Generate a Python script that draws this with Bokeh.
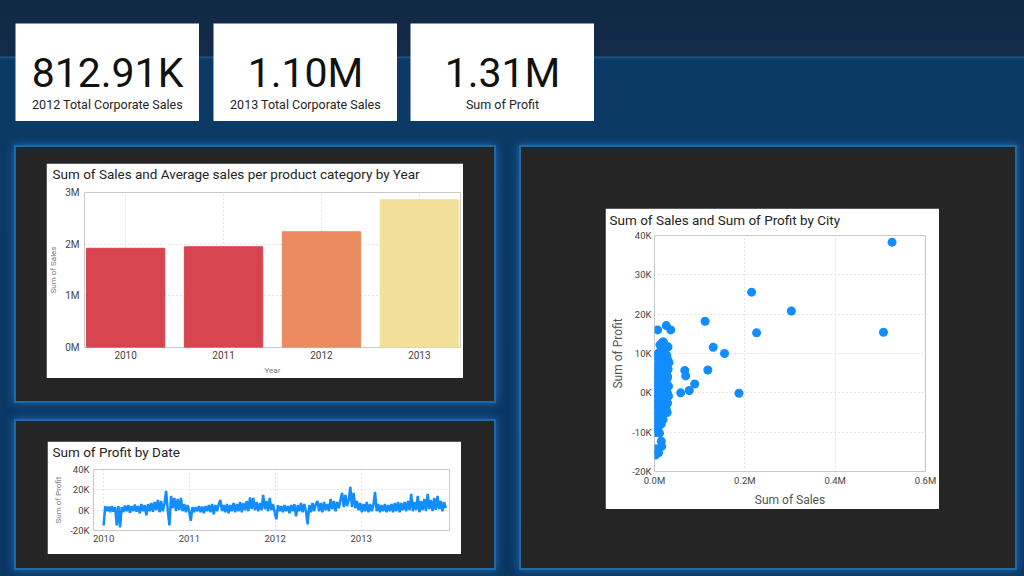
import pandas as pd
from bokeh.plotting import figure
from bokeh.layouts import column, row
from bokeh.models import (Spacer, Range1d, FactorRange, PrintfTickFormatter, FixedTicker,
                          DatetimeTickFormatter, ColumnDataSource, Title)
from bokeh.core.properties import value
from bokeh.embed import file_html
from bokeh.resources import INLINE

# ---------------- data ----------------
kpi_values = ["812.91K", "1.10M", "1.31M"]
kpi_labels = ["2012 Total Corporate Sales", "2013 Total Corporate Sales", "Sum of Profit"]

years = ["2010", "2011", "2012", "2013"]
sales_by_year_m = [1.92, 1.95, 2.24, 2.86]
bar_colors = ["#D64550", "#D64550", "#EB895F", "#F2DF9A"]

# weekly sum of profit (thousands)
profit_k = [
    -15, 4, -1, 3.5, -2, 4, -1.5, 3, -15, 4,
    -17, 3, -2, 4.5, -1, 5, -2.5, 4, -1, 5.5,
    -1.5, 4, -3, 6, -1, 5, -5, 6, -1, 7,
    -1.5, 8, 0, 10, -2, 9, -1, 6, 19, 0,
    -15, 14, 2, 12, -1, 11, 0, 12, -1, 6,
    -2, 5, -1, -10.5, 3, -2, 3, -1, 4, -2,
    3.5, -3, 4, -1, 5, -2, 6, -4, 5, -1,
    6, 10, -1, 5, -2, 6, -3, 5, -1, 7,
    -2, 6, -1, 8, -2, 7, 0, 9, -1, 12.5,
    1, 12, 0, 8, -1, 7, 0, 15, 1, 9,
    -1, 12, 0, 6, -2, -9, 5, -1, 4, -2,
    5, -1, 4, -3, 5, -1, 6, -6, 5, -1,
    7, -2, 6, -1, -14, 5, -2, 7, -1, 6,
    9, -1, 7, -2, 8, 0, 6, -1, 11, 1,
    9, -1, 8, 2, 10, 17, 3, 15, 4, 10,
    23, 3, 17, 2, 9, 0, 7, -2, 6, -1,
    8, -2, 6, -1, 5, 18, -1, 6, -2, 5,
    -1, 6, -2, 5, -1, 6, -2, 7, -1, 8,
    -2, 7, 0, 8, -1, 9, 0, 16, -1, 8,
    0, 14, -2, 9, 0, 11, -1, 16, 1, 10,
    -1, 12, 0, 14, 1, 9, -1, 8, 2,
]
profit_dates = pd.date_range("2010-01-01", periods=len(profit_k), freq="7D")
date_tick_years = [2010, 2011, 2012, 2013]

# sum of sales (millions) and sum of profit (thousands) per city
city_sales_m = [
    0.526, 0.215, 0.303, 0.507, 0.226, 0.112, 0.130, 0.155, 0.118, 0.067,
    0.069, 0.089, 0.077, 0.058, 0.187, 0.007, 0.026, 0.036, 0.018, 0.030,
    0.029, 0.032, 0.028, 0.031, 0.015, 0.011, 0.015, 0.016, 0.009, 0.002, 0.002,
    0.002, 0.006, 0.010, 0.014, 0.018, 0.022, 0.004, 0.009, 0.013, 0.017,
    0.021, 0.025, 0.003, 0.007, 0.011, 0.016, 0.020, 0.024, 0.002, 0.006,
    0.010, 0.015, 0.019, 0.023, 0.027, 0.003, 0.008, 0.012, 0.017, 0.021,
    0.026, 0.001, 0.005, 0.009, 0.014, 0.018, 0.022, 0.026, 0.002, 0.006,
    0.011, 0.015, 0.020, 0.024, 0.028, 0.003, 0.007, 0.012, 0.016, 0.021,
    0.025, 0.001, 0.005, 0.010, 0.014, 0.019, 0.023, 0.003, 0.008, 0.012,
    0.017, 0.021, 0.002, 0.006, 0.010, 0.015, 0.019, 0.004, 0.008, 0.012,
    0.001, 0.005, 0.009, 0.003, 0.015, 0.019, 0.012, 0.020, 0.017, 0.023,
    0.028, 0.030, 0.027, 0.029, 0.031, 0.029, 0.026, 0.028,
]
city_profit_k = [
    38.3, 25.6, 20.8, 15.4, 15.25, 18.2, 11.6, 10.0, 5.8, 5.7,
    4.3, 2.25, 0.6, 0.0, -0.1, 16.0, 17.1, 16.0, 12.9, 11.7,
    8.5, 7.7, 4.3, 1.7, -7.9, -10.25, -12.3, -13.6, -15.25, -14.2, -15.8,
    9.5, 9.8, 10.2, 9.0, 9.6, 8.8, 8.0, 8.4, 7.6, 8.1,
    7.3, 8.6, 6.5, 6.9, 6.1, 6.6, 5.9, 6.4, 5.0, 4.6,
    5.3, 4.9, 4.2, 5.1, 4.5, 3.4, 3.0, 3.7, 2.8, 3.3,
    2.6, 1.8, 1.4, 2.1, 1.2, 1.9, 1.0, 1.6, 0.2, -0.3,
    0.5, -0.1, 0.3, -0.4, 0.1, -1.5, -1.1, -1.8, -1.3, -2.0,
    -1.6, -3.0, -2.7, -3.4, -2.9, -3.6, -3.1, -4.6, -4.2, -5.0,
    -4.5, -5.3, -6.1, -5.8, -6.5, -6.2, -6.8, -7.6, -7.2, -8.0,
    -8.8, -9.3, -8.6, -10.1, 11.0, 11.8, 12.2, 12.9, 10.6, 10.4,
    7.0, 6.0, 9.5, 3.9, -0.8, -2.6, -4.2, -5.0,
]

# ---------------- styles ----------------
FONT = "Roboto"
TITLE_COLOR = "#252423"
TICK_COLOR = "#444444"
AXLABEL_COLOR = "#777777"
GRID_COLOR = "#c8c8c8"
BLUE = "#118DFF"
PANEL_STYLES = {
    "background-color": "#252525",
    "box-shadow": "0 0 0 2px #1d6aa6, 0 0 8px 3px rgba(40,130,210,0.55)",
}


def base_fig(w, h, **kw):
    p = figure(width=w, height=h, toolbar_location=None, output_backend="svg", **kw)
    p.background_fill_color = "white"
    p.border_fill_color = "white"
    p.outline_line_color = None
    return p


def style_chart(p, title_offset, gap):
    p.title.text_font = FONT
    p.title.text_font_size = "13.5px"
    p.title.text_font_style = "normal"
    p.title.text_color = TITLE_COLOR
    p.title.offset = title_offset
    p.title.vertical_align = "bottom"
    p.title.standoff = 0
    # invisible spacer panel between the title and the plot frame
    p.add_layout(Title(text=" ", text_font_size="1px", standoff=gap), "above")
    for ax in p.axis:
        ax.axis_line_color = None
        ax.major_tick_line_color = None
        ax.minor_tick_line_color = None
        ax.major_tick_out = 0
        ax.major_tick_in = 0
        ax.minor_tick_out = 0
        ax.minor_tick_in = 0
        ax.major_label_text_font = FONT
        ax.major_label_text_color = TICK_COLOR
        ax.axis_label_text_font = FONT
        ax.axis_label_text_font_style = "normal"
        ax.axis_label_text_color = AXLABEL_COLOR
    for g in p.grid:
        g.grid_line_color = GRID_COLOR
        g.grid_line_dash = "1 3"
        g.grid_line_width = 1


def kpi_card(val, lab):
    p = base_fig(184, 98, x_range=Range1d(0, 184), y_range=Range1d(0, 98),
                 x_axis_location=None, y_axis_location=None, min_border=0, title=None)
    p.grid.visible = False
    p.text(x=[92], y=[49], text=[val], text_align="center", text_baseline="alphabetic",
           text_font=value(FONT), text_font_size="41px", text_color="#111111")
    p.text(x=[92], y=[17], text=[lab], text_align="center", text_baseline="alphabetic",
           text_font=value(FONT), text_font_size="12.5px", text_color="#252423")
    return p


# ---------------- KPI cards ----------------
k1, k2, k3 = [kpi_card(v, l) for v, l in zip(kpi_values, kpi_labels)]

# ---------------- bar chart ----------------
bar_src = ColumnDataSource(dict(year=years, sales=sales_by_year_m, color=bar_colors))
bar = base_fig(417, 215, x_range=FactorRange(*years, range_padding=-0.04),
               y_range=Range1d(0, 3.0),
               title="Sum of Sales and Average sales per product category by Year",
               min_border_left=38, min_border_right=3, min_border_top=29, min_border_bottom=31)
bar.vbar(x="year", top="sales", width=0.8, color="color", source=bar_src)
style_chart(bar, -32, 8)
bar.yaxis.ticker = FixedTicker(ticks=[0, 1, 2, 3])
bar.yaxis.formatter = PrintfTickFormatter(format="%dM")
bar.yaxis.axis_label = "Sum of Sales"
bar.xaxis.axis_label = "Year"
for ax in bar.axis:
    ax.major_label_text_font_size = "10px"
    ax.axis_label_text_font_size = "8px"
    ax.axis_label_standoff = 4
bar.yaxis.major_label_standoff = 5
bar.xaxis.major_label_standoff = 3

# ---------------- profit by date ----------------
line = base_fig(414, 113, x_axis_type="datetime",
                x_range=Range1d(pd.Timestamp("2009-11-19"), pd.Timestamp("2014-01-12")),
                y_range=Range1d(-20, 40), title="Sum of Profit by Date",
                min_border_left=46, min_border_right=12, min_border_top=28, min_border_bottom=24)
line.line(x=profit_dates, y=profit_k, line_width=2.5, color=BLUE)
style_chart(line, -41, 7)
line.yaxis.ticker = FixedTicker(ticks=[-20, 0, 20, 40])
line.yaxis.formatter = PrintfTickFormatter(format="%dK")
line.yaxis.axis_label = "Sum of Profit"
line.xaxis.ticker = FixedTicker(ticks=[pd.Timestamp(f"{y}-01-01").value / 1e6 for y in date_tick_years])
line.xaxis.formatter = DatetimeTickFormatter(years="%Y", months="%Y", days="%Y", hours="%Y")
for ax in line.axis:
    ax.major_label_text_font_size = "9.5px"
    ax.axis_label_text_font_size = "8px"
    ax.axis_label_standoff = 4
    ax.major_label_standoff = 4

# ---------------- scatter ----------------
sc = base_fig(334, 301, x_range=Range1d(0, 0.6), y_range=Range1d(-20, 40),
              title="Sum of Sales and Sum of Profit by City",
              min_border_left=49, min_border_right=14, min_border_top=27, min_border_bottom=34)
sc.scatter(x=city_sales_m, y=city_profit_k, size=9, color=BLUE, line_color=None)
style_chart(sc, -45, 5)
sc.xaxis.ticker = FixedTicker(ticks=[0, 0.2, 0.4, 0.6])
sc.xaxis.formatter = PrintfTickFormatter(format="%.1fM")
sc.yaxis.ticker = FixedTicker(ticks=[-20, -10, 0, 10, 20, 30, 40])
sc.yaxis.formatter = PrintfTickFormatter(format="%dK")
sc.xaxis.axis_label = "Sum of Sales"
sc.yaxis.axis_label = "Sum of Profit"
for ax in sc.axis:
    ax.major_label_text_font_size = "9.5px"
    ax.axis_label_text_font_size = "12px"
    ax.axis_label_text_color = "#555555"
    ax.axis_label_standoff = 4
    ax.major_label_standoff = 3


# ---------------- layout ----------------
def panel(fig, w, h, left, top):
    inner = row(Spacer(width=left, height=fig.height), fig, width=w, height=fig.height)
    return column(Spacer(width=w, height=top), inner, width=w, height=h, styles=PANEL_STYLES)


p1 = panel(bar, 478, 254, 30, 16)
p2 = panel(line, 478, 147, 31, 20)
p3 = panel(sc, 494, 421, 84, 61)

W = 1016
kpi_row = row(Spacer(width=15, height=98), k1, Spacer(width=14, height=98), k2,
              Spacer(width=13, height=98), k3, width=W, height=98)
left_col = column(p1, Spacer(width=478, height=20), p2, width=478, height=421)
main_row = row(Spacer(width=16, height=421), left_col, Spacer(width=27, height=421), p3,
               width=W, height=421)

root = column(Spacer(width=W, height=23), kpi_row, Spacer(width=W, height=26), main_row,
              width=W, height=568)

BG_CSS = ("html { background: linear-gradient(180deg, #122946 0px, #132a48 56px, #1e5b8c 57px, "
          "#0c3a66 59px, #0b3763 100%); min-height: 100%; }")
try:
    from bokeh.models import GlobalInlineStyleSheet
    root.stylesheets = [GlobalInlineStyleSheet(css=BG_CSS)]
except Exception:
    root.styles = {"background": "#0c3a66"}

open("out.html", "w").write(file_html(root, INLINE))
